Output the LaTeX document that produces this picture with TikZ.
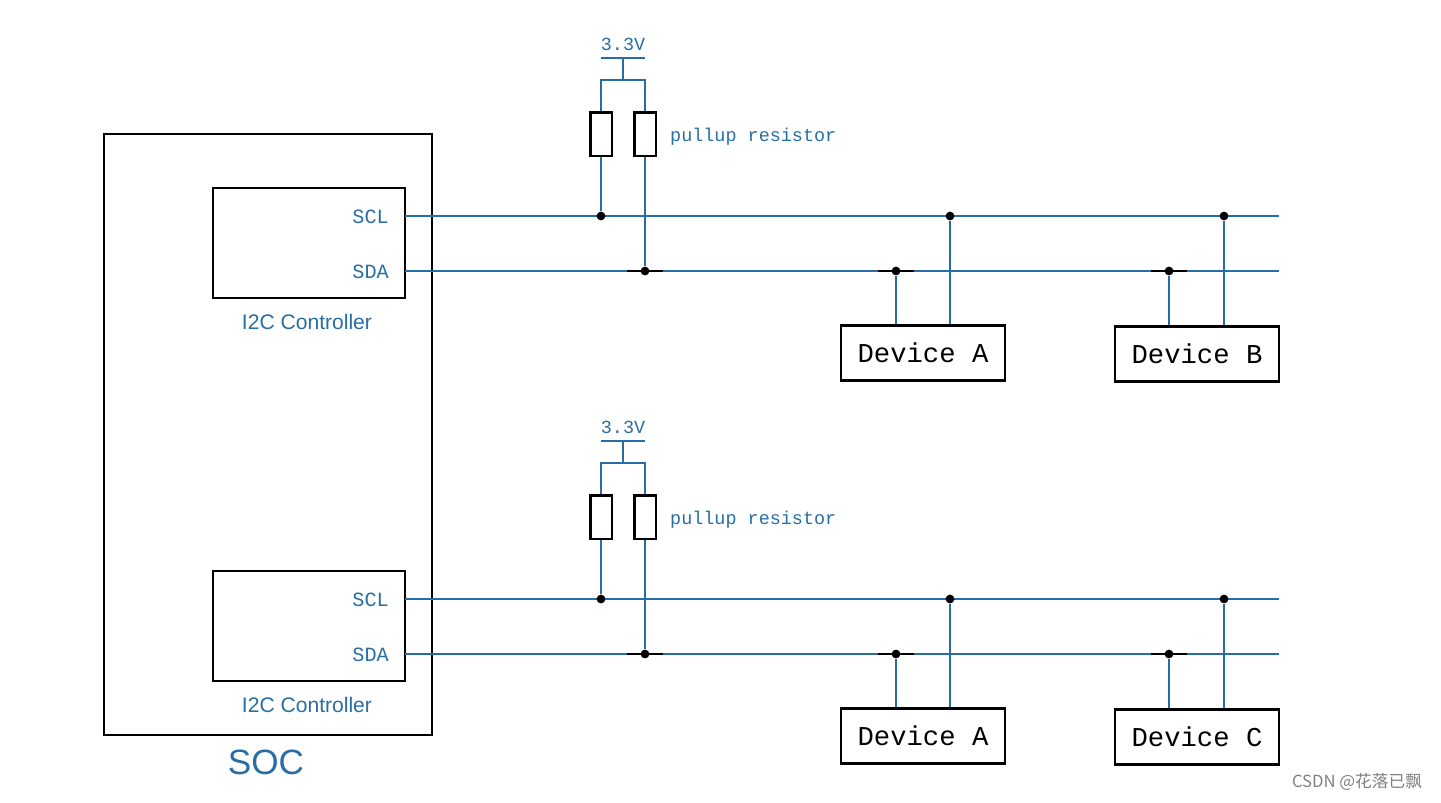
\documentclass[tikz,border=0pt]{standalone}
\usepackage{fontspec}
\setmainfont{Liberation Serif}
\newfontfamily\sansf{Liberation Sans}
\newfontfamily\monof{Liberation Mono}
\newfontfamily\cjk{Noto Sans CJK SC}
\definecolor{wire}{RGB}{40,110,165}
\tikzset{
  box/.style={draw, line width=1.3pt},
  bus/.style={wire, line width=1.3pt},
  dot/.style={circle, fill=black, inner sep=0pt, minimum size=5pt},
  lbl/.style={text=wire, font=\monof\fontsize{10.5}{10.5}\selectfont},
  res/.style={draw, line width=1.7pt, minimum width=0.44cm, minimum height=0.88cm, inner sep=0pt},
  dev/.style={box, inner sep=0pt, minimum width=3.28cm, minimum height=1.1cm, font=\monof\fontsize{15.5}{15.5}\selectfont}
}
\begin{document}
\begin{tikzpicture}[x=0.02cm, y=-0.02cm]
    \useasboundingbox (0,0) rectangle (1441,802);
    % SOC
    \draw[box] (104,134) rectangle (432,735);
    \node[text=wire, font=\sansf\fontsize{20}{20}\selectfont] (soc) at (266,762) {SOC};
    % two buses
    \foreach \i/\dy/\dev in {t/0/B, b/383/C} {
        \begin{scope}[yshift=-\dy*0.02cm]
        \draw[box] (213,188) rectangle (405,298);
        \node[lbl, font=\monof\fontsize{11.5}{11.5}\selectfont, anchor=east] (scl\i) at (395,217) {SCL};
        \node[lbl, font=\monof\fontsize{11.5}{11.5}\selectfont, anchor=east] (sda\i) at (395,272) {SDA};
        \node[text=wire, font=\sansf\fontsize{12}{12}\selectfont] (ctl\i) at (307,322) {I2C Controller};
        \coordinate (sclL\i) at (405,216);
        \coordinate (sdaL\i) at (405,271);
        \coordinate (sclR\i) at (1279,216);
        \coordinate (sdaR\i) at (1279,271);
        \draw[bus] (sclL\i) -- (sclR\i);
        \draw[bus] (sdaL\i) -- (sdaR\i);
        % pullup
        \node[lbl] (vcc\i) at (623,44) {3.3V};
        \coordinate (vtop\i) at (623,58);
        \coordinate (vmid\i) at (623,80);
        \draw[bus] (601,58) -- (645,58);
        \draw[bus] (vtop\i) -- (vmid\i);
        \draw[bus] (601,112) |- (645,80) -- (645,112);
        \node[res] (r1\i) at (601,134) {};
        \node[res] (r2\i) at (645,134) {};
        \node[lbl, anchor=west] (pu\i) at (664,137) {pullup resistor};
        \node[dot] (d1\i) at (601,216) {};
        \node[dot] (d2\i) at (645,271) {};
        \draw[bus] (r1\i.south) -- (d1\i);
        \draw[bus] (r2\i.south) -- (d2\i);
        \draw[thick] (627,271) -- (663,271);
        % devices
        \node[dev] (devA\i) at (923,353) {Device A};
        \node[dev] (dev\dev\i) at (1197,354) {Device \dev};
        \node[dot] (d3\i) at (896,271) {};
        \node[dot] (d4\i) at (950,216) {};
        \node[dot] (d5\i) at (1169,271) {};
        \node[dot] (d6\i) at (1224,216) {};
        \draw[thick] (878,271) -- (914,271);
        \draw[thick] (1151,271) -- (1187,271);
        \draw[bus] (d3\i) -- (d3\i |- devA\i.north);
        \draw[bus] (d4\i) -- (d4\i |- devA\i.north);
        \draw[bus] (d5\i) -- (d5\i |- dev\dev\i.north);
        \draw[bus] (d6\i) -- (d6\i |- dev\dev\i.north);
        \end{scope}
    }
    \node[text=gray, font=\cjk\fontsize{9.5}{9.5}\selectfont] (mark) at (1357,782) {CSDN @花落已飘};
\end{tikzpicture}
\end{document}
